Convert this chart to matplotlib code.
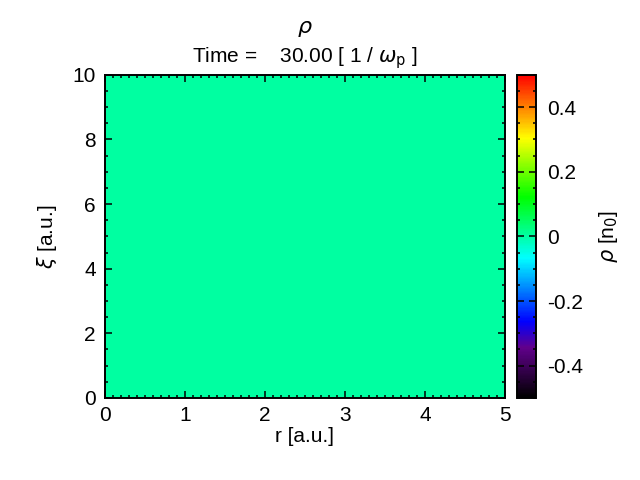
import numpy as np
import matplotlib
matplotlib.use("Agg")
import matplotlib.pyplot as plt
from matplotlib.colors import LinearSegmentedColormap
from matplotlib.ticker import MultipleLocator

# data: charge density field (all zero at this time step)
r_range = [0.0, 5.0]
xi_range = [0.0, 10.0]
rho_field = np.zeros((100, 50))
rho_limits = [-0.5, 0.5]
time_value = 30.00

cbar_ticks = [-0.4, -0.2, 0, 0.2, 0.4]
cbar_ticklabels = ["-0.4", "-0.2", "0", "0.2", "0.4"]

# rainbow-like table: black -> purple -> blue -> cyan -> green -> yellow -> red
cmap = LinearSegmentedColormap.from_list("rainbow_idl", [
    (0.0, (0.0, 0.0, 0.0)),
    (0.155, (0.38, 0.0, 0.55)),
    (0.235, (0.0, 0.0, 1.0)),
    (0.433, (0.0, 1.0, 1.0)),
    (0.622, (0.0, 1.0, 0.0)),
    (0.805, (1.0, 1.0, 0.0)),
    (1.0, (1.0, 0.0, 0.0)),
])

plt.rcParams["font.family"] = ["Liberation Sans", "DejaVu Sans"]
plt.rcParams["mathtext.fontset"] = "dejavusans"
fs = 15

fig = plt.figure(figsize=(6.4, 4.8), dpi=100)
ax = fig.add_axes([0.164, 0.171, 0.625, 0.673])
cax = fig.add_axes([0.808, 0.171, 0.030, 0.673])

im = ax.imshow(rho_field, origin="lower", aspect="auto", cmap=cmap,
               vmin=rho_limits[0], vmax=rho_limits[1],
               extent=[r_range[0], r_range[1], xi_range[0], xi_range[1]],
               interpolation="nearest")
ax.set_xlim(r_range)
ax.set_ylim(xi_range)
ax.xaxis.set_major_locator(MultipleLocator(1))
ax.xaxis.set_minor_locator(MultipleLocator(0.1))
ax.yaxis.set_major_locator(MultipleLocator(2))
ax.yaxis.set_minor_locator(MultipleLocator(0.5))
ax.tick_params(which="both", direction="in", top=True, right=True,
               labelsize=fs, width=1.1)
ax.tick_params(axis="x", which="both", pad=6)
ax.tick_params(axis="y", which="both", pad=6.5)
ax.tick_params(which="major", length=5)
ax.tick_params(which="minor", length=2.5)
for s in ax.spines.values():
    s.set_linewidth(1.4)

ax.set_xlabel("r [a.u.]", fontsize=fs, labelpad=1)
ax.set_ylabel(r"$\xi$ [a.u.]", fontsize=fs, labelpad=10)
fig.text(0.477, 0.94, r"$\rho$", fontsize=fs + 1, ha="center", va="center")
fig.text(0.477, 0.871, "Time =    %.2f [ 1 / $\\omega_\\mathrm{p}$ ]" % time_value,
         fontsize=fs, ha="center", va="baseline")

cb = fig.colorbar(im, cax=cax)
cb.set_ticks(cbar_ticks)
cb.set_ticklabels(cbar_ticklabels)
cb.ax.yaxis.set_minor_locator(MultipleLocator(0.05))
cb.ax.tick_params(which="both", direction="in", left=True, right=True,
                  labelsize=fs, width=1.1, pad=8)
cb.ax.tick_params(which="major", length=5)
cb.ax.tick_params(which="minor", length=2.5)
cb.outline.set_linewidth(1.4)
cb.set_label(r"$\rho$ [n$_0$]", fontsize=fs, labelpad=10)

fig.savefig("out.png", dpi=100)
